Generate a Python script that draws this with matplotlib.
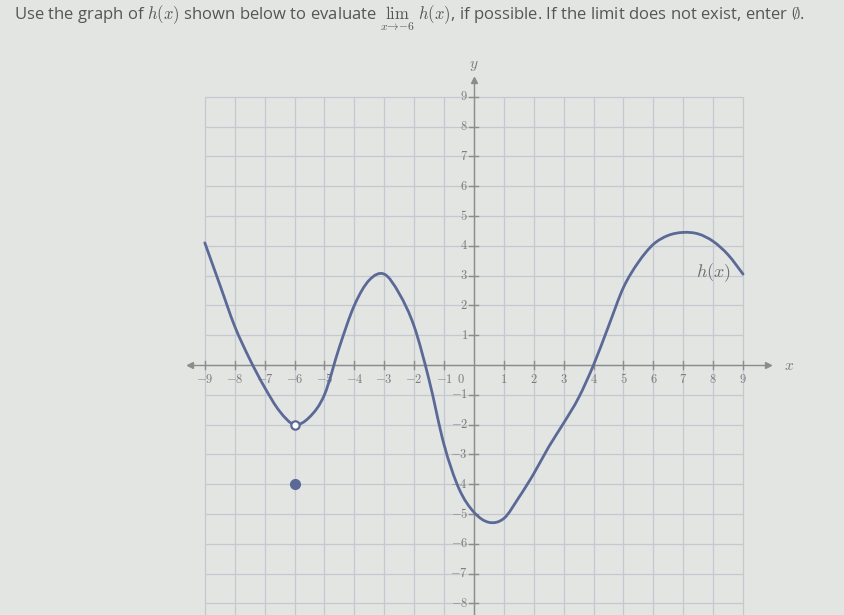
import numpy as np
import matplotlib.pyplot as plt
from matplotlib.path import Path
from matplotlib.patches import PathPatch

plt.rcParams['mathtext.fontset'] = 'cm'

hx = [-9, -8.5, -8, -7.5, -7, -6.5, -6, -5.5, -5, -4.5, -4, -3.5,
      -3, -2.5, -2, -1.5, -1, -0.5, 0, 0.5, 1, 1.5, 2, 2.5, 3, 3.5, 4,
      4.5, 5, 5.5, 6, 6.5, 7, 7.5, 8, 8.5, 9]
hy = [4.1, 2.7, 1.3, 0.2, -0.75, -1.55, -2.0, -1.75, -1.0, 0.6, 2.0, 2.85,
      3.05, 2.4, 1.3, -0.5, -2.67, -4.15, -4.94, -5.28, -5.15, -4.45, -3.65, -2.75, -1.95, -1.1, 0.0,
      1.3, 2.6, 3.45, 4.05, 4.35, 4.45, 4.4, 4.15, 3.7, 3.05]
hole = (-6, -2)
dot = (-6, -4)
xticks = [-9, -8, -7, -6, -5, -4, -3, -2, -1, 1, 2, 3, 4, 5, 6, 7, 8, 9]
yticks = [-8, -7, -6, -5, -4, -3, -2, -1, 1, 2, 3, 4, 5, 6, 7, 8, 9]

bg = '#e3e5e3'
grid_c = '#c4c9d0'
axis_c = '#8c8c8c'
curve_c = '#5b6996'
label_c = '#7a7a7a'

fig = plt.figure(figsize=(8.45, 6.15), dpi=100, facecolor=bg)
ax = fig.add_axes([0, 0, 1, 1])
ax.set_facecolor(bg)
ax.set_xlim(-15.85, 12.41)
ax.set_ylim(-8.39, 12.25)
ax.axis('off')

# grid
ax.vlines(range(-9, 10), -8.5, 9, color=grid_c, lw=0.9, zorder=1)
ax.hlines(range(-8, 10), -9, 9, color=grid_c, lw=0.9, zorder=1)

# axes with arrows
ax.plot([-9.45, 9.8], [0, 0], color=axis_c, lw=1, zorder=2)
ax.plot([0, 0], [-8.5, 9.5], color=axis_c, lw=1, zorder=2)
ax.plot(-9.5, 0, marker='<', color=axis_c, ms=5, zorder=2)
ax.plot(9.85, 0, marker='>', color=axis_c, ms=5, zorder=2)
ax.plot(0, 9.55, marker='^', color=axis_c, ms=5, zorder=2)
ax.text(10.55, 0, '$x$', color=label_c, fontsize=11, ha='center', va='center')
ax.text(0, 10.05, '$y$', color=label_c, fontsize=11, ha='center', va='center')

for t in xticks:
    ax.plot([t, t], [-0.15, 0.15], color=axis_c, lw=1, zorder=2)
    ax.text(t, -0.47, f'${t}$', color=label_c, fontsize=9, ha='center', va='center')
for t in yticks:
    ax.plot([-0.15, 0.15], [t, t], color=axis_c, lw=1, zorder=2)
    ax.text(-0.2, t, f'${t}$', color=label_c, fontsize=9, ha='right', va='center')
ax.text(-0.3, -0.47, '$0$', color=label_c, fontsize=9, ha='right', va='center')

# smooth curve through the read points (Catmull-Rom as cubic Bezier path)
pts = np.column_stack([hx, hy])
ext = np.vstack([pts[0], pts, pts[-1]])
verts = [tuple(pts[0])]
codes = [Path.MOVETO]
for i in range(1, len(ext) - 2):
    p0, p1, p2, p3 = ext[i - 1], ext[i], ext[i + 1], ext[i + 2]
    c1 = p1 + (p2 - p0) / 6
    c2 = p2 - (p3 - p1) / 6
    verts += [tuple(c1), tuple(c2), tuple(p2)]
    codes += [Path.CURVE4] * 3
ax.add_patch(PathPatch(Path(verts, codes), fill=False, ec=curve_c, lw=2, zorder=3,
                       capstyle='round'))

ax.plot(*hole, marker='o', ms=6, mfc='white', mec=curve_c, mew=1.6, zorder=4)
ax.plot(*dot, marker='o', ms=7, color=curve_c, zorder=4)
ax.text(8.0, 3.1, '$h(x)$', color='#6e6e6e', fontsize=13, ha='center', va='center')

# question text
fig.text(0.016, 0.970,
         r'Use the graph of $h(x)$ shown below to evaluate $\lim_{x\to -6}\ h(x)$, '
         r'if possible. If the limit does not exist, enter $\mathsf{\emptyset}$.',
         fontsize=12, color='#555555', ha='left', va='center',
         family=['Open Sans', 'DejaVu Sans'])

fig.savefig('out.png', dpi=100, facecolor=bg)
